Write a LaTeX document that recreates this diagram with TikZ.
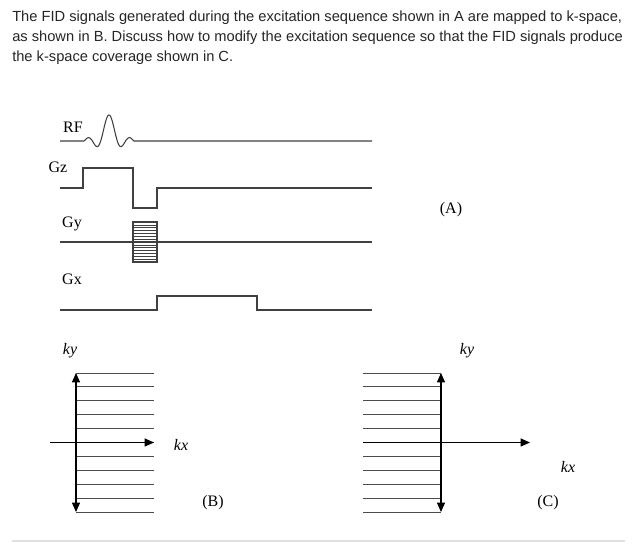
\documentclass[tikz,border=0pt]{standalone}
\usepackage{fontspec}
\setmainfont{Liberation Serif}
\newfontfamily\arial{Liberation Sans}
\usetikzlibrary{arrows.meta}
\begin{document}
\begin{tikzpicture}[x=0.75pt,y=-0.75pt,
  wave/.style={line width=0.8pt,black!75},
  lbl/.style={font=\fontsize{12}{14}\selectfont,inner sep=0pt},
  kline/.style={line width=0.7pt,black!70},
  kax/.style={line width=0.8pt,-{Triangle[length=7pt,width=6pt]}},
  txt/.style={font=\arial\fontsize{11}{13}\selectfont,text=black!85,anchor=west,inner sep=0pt}]
\useasboundingbox (0,0) rectangle (637,555);
\fill[white] (0,0) rectangle (637,555);
\node[txt] (t1) at (12,18) {The FID signals generated during the excitation sequence shown in A are mapped to k-space,};
\node[txt] (t2) at (12,38) {as shown in B. Discuss how to modify the excitation sequence so that the FID signals produce};
\node[txt] (t3) at (12,58) {the k-space coverage shown in C.};
% RF
\node[lbl] (rf) at (73,127) {RF};
\draw[wave] (60,141) -- (84,141) plot[domain=-3:3,samples=80,smooth] ({109+\x*8.3},{141-26*sin(\x*180/3.1416*3.1416)/(\x*3.1416+0.0001)*1}) -- (372,141);
% Gz
\node[lbl] (gz) at (58,167) {Gz};
\draw[wave] (60,188) -- (83,188) -- (83,168) -- (133,168) -- (133,208) -- (157,208) -- (157,188) -- (372,188);
% Gy
\node[lbl] (gy) at (72,224) {Gy};
\draw[wave] (60,242) -- (372,242);
\draw[wave] (133,222) rectangle (157,262);
\foreach \i in {1,...,13} \draw[black!75,line width=0.5pt] (133,{222+\i*40/14}) -- (157,{222+\i*40/14});
% Gx
\node[lbl] (gx) at (72,279) {Gx};
\draw[wave] (60,310) -- (157,310) -- (157,296) -- (257,296) -- (257,310) -- (372,310);
\node[lbl] (A) at (451,210) {(A)};
% B
\foreach \i in {0,...,10} \draw[kline] (76,{373+\i*13.9}) -- (154,{373+\i*13.9});
\coordinate (bt) at (76,373); \coordinate (bb) at (76,512);
\coordinate (bm) at (76,442.5);
\draw[kax] (bm) -- (bt); \draw[kax] (bm) -- (bb);
\coordinate (bl) at (50,442.5); \coordinate (br) at (154,442.5);
\draw[kax] (bl) -- (br);
\node[lbl,font=\itshape\fontsize{12}{14}\selectfont] (bky) at (70,351) {ky};
\node[lbl,font=\itshape\fontsize{12}{14}\selectfont] (bkx) at (181,445) {kx};
\node[lbl] (B) at (213,503) {(B)};
% C
\foreach \i in {0,...,10} \draw[kline] (363,{373+\i*13.9}) -- (441,{373+\i*13.9});
\coordinate (ct) at (441,373); \coordinate (cb) at (441,512);
\coordinate (cm) at (441,442.5);
\draw[kax] (cm) -- (ct); \draw[kax] (cm) -- (cb);
\coordinate (cl) at (363,442.5); \coordinate (cr) at (530,442.5);
\draw[kax] (cl) -- (cr);
\node[lbl,font=\itshape\fontsize{12}{14}\selectfont] (cky) at (467,351) {ky};
\node[lbl,font=\itshape\fontsize{12}{14}\selectfont] (ckx) at (568,467) {kx};
\node[lbl] (C) at (548,503) {(C)};
\draw[black!12,line width=1pt] (12,541) -- (625,541);
\end{tikzpicture}
\end{document}
